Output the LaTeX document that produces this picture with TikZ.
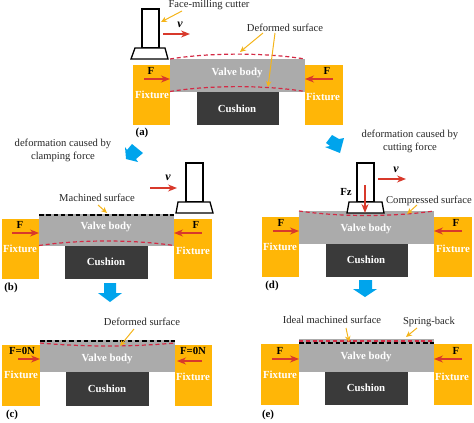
\documentclass[tikz,border=0pt]{standalone}
\usepackage{fontspec}
\setmainfont{Liberation Serif}
\usetikzlibrary{arrows.meta}
\definecolor{fixt}{HTML}{FFB607}
\definecolor{cush}{HTML}{3A3A3A}
\definecolor{bodyg}{HTML}{ABABAB}
\definecolor{redc}{HTML}{D8392B}
\definecolor{lead}{HTML}{F4B41A}
\definecolor{dashr}{HTML}{D42A45}
\definecolor{blueb}{HTML}{00A4EC}
\tikzset{
  block/.style={anchor=north west,inner sep=0pt,outer sep=0pt,draw=none},
  fixture/.style={block,fill=fixt},
  cushion/.style={block,fill=cush},
  vbody/.style={block,fill=bodyg},
  whitetxt/.style={text=white,font=\fontsize{10.8}{12}\selectfont\bfseries,inner sep=0pt},
  bold/.style={font=\fontsize{10.8}{12}\selectfont\bfseries,inner sep=0pt},
  lab/.style={font=\fontsize{10.6}{12}\selectfont,inner sep=0pt,text=black!85},
  vel/.style={font=\fontsize{12}{13}\selectfont\bfseries\itshape,inner sep=0pt},
  force/.style={draw=redc,line width=1.3pt,-{Stealth[length=9pt,width=7pt]}},
  leader/.style={draw=lead,line width=1pt,-{Stealth[length=6pt,width=5.5pt]}},
  reddash/.style={draw=dashr,line width=1.2pt,dash pattern=on 4pt off 2.8pt},
  blackdash/.style={draw=black,line width=1.2pt,dash pattern=on 4.5pt off 2.8pt},
  cutter/.style={draw=black,line width=1.3pt,fill=white},
  bluearrow/.style={fill=blueb,draw=none},
}
\begin{document}
\begin{tikzpicture}[x=1pt,y=-1pt]
\useasboundingbox (0,0) rectangle (474,423);

% ---------- panel (a)
\node[fixture,minimum width=37pt,minimum height=60pt] (fa1) at (133,65) {};
\node[fixture,minimum width=38pt,minimum height=60pt] (fa2) at (305,65) {};
\node[cushion,minimum width=82pt,minimum height=33pt] (ca) at (197,92) {};
\node[vbody,minimum width=135pt,minimum height=33pt] (vab) at (170,59) {};
\coordinate (adA) at (170,59); \coordinate (adB) at (305,59);
\coordinate (adC) at (170,91.5); \coordinate (adD) at (305,91.5);
\draw[reddash] (adA) .. controls (210,52.5) and (265,52.5) .. (adB);
\draw[reddash] (adC) .. controls (210,85) and (265,85) .. (adD);
\node[whitetxt] (va) at (237,73) {Valve body};
\node[whitetxt] (cua) at (237,109) {Cushion};
\node[whitetxt] (xa1) at (152,95) {Fixture};
\node[whitetxt] (xa2) at (323,97) {Fixture};
\node[bold] (Fa1) at (151,71) {F};
\node[bold] (Fa2) at (327,71) {F};
\coordinate (af1) at (144,79); \coordinate (af2) at (170,79);
\coordinate (af3) at (333,79); \coordinate (af4) at (305,79);
\draw[force] (af1) -- (af2);
\draw[force] (af3) -- (af4);
\draw[cutter] (142,9) rectangle (159,48);
\draw[cutter] (135,48) -- (165,48) -- (168,59) -- (131,59) -- cycle;
\node[vel] (va1) at (180,25) {v};
\coordinate (av1) at (163,34); \coordinate (av2) at (190,34);
\draw[force] (av1) -- (av2);
\node[lab] (tfm) at (209,5) {Face-milling cutter};
\coordinate (lfm1) at (182,11); \coordinate (lfm2) at (161,22);
\draw[leader] (lfm1) -- (lfm2);
\node[lab] (tda) at (285,28) {Deformed surface};
\coordinate (lda1) at (263,33); \coordinate (lda2) at (240,52);
\coordinate (lda3) at (275,33); \coordinate (lda4) at (268,87);
\draw[leader] (lda1) -- (lda2);
\draw[leader] (lda3) -- (lda4);
\node[bold] (la) at (142,133) {(a)};

% ---------- blue arrows
\path[bluearrow] (132,144) -- (143,153) -- (136,159) -- (138,162) -- (126,159) -- (125,147) -- (127,150) -- cycle;
\path[bluearrow] (332,135) -- (339,139) -- (344,138) -- (340,153) -- (325,147) -- (330,146) -- (326,143) -- cycle;
\path[bluearrow] (104,283) -- (116,283) -- (116,293) -- (122,293) -- (110,302) -- (98,293) -- (104,293) -- cycle;
\path[bluearrow] (359,280) -- (372,280) -- (372,289) -- (377,289) -- (365,297) -- (353,289) -- (359,289) -- cycle;

\node[lab] (t1a) at (63,144) {deformation caused by};
\node[lab] (t1b) at (63,157) {clamping force};
\node[lab] (t2a) at (410,135) {deformation caused by};
\node[lab] (t2b) at (410,148) {cutting force};

% ---------- panel (b)
\node[fixture,minimum width=37pt,minimum height=60pt] (fb1) at (2,219) {};
\node[fixture,minimum width=38pt,minimum height=60pt] (fb2) at (174,219) {};
\node[cushion,minimum width=83pt,minimum height=33pt] (cb) at (65,246) {};
\node[vbody,minimum width=135pt,minimum height=32pt] (vb) at (39,214) {};
\coordinate (bdA) at (39,215); \coordinate (bdB) at (174,215);
\coordinate (bdC) at (39,245.5); \coordinate (bdD) at (174,245.5);
\draw[blackdash] (bdA) -- (bdB);
\draw[reddash] (bdC) .. controls (80,239.5) and (133,239.5) .. (bdD);
\node[whitetxt] (vbt) at (106,227) {Valve body};
\node[whitetxt] (cbt) at (106,262) {Cushion};
\node[whitetxt] (xb1) at (20,249) {Fixture};
\node[whitetxt] (xb2) at (193,251) {Fixture};
\node[bold] (Fb1) at (20,225) {F};
\node[bold] (Fb2) at (196,225) {F};
\coordinate (bf1) at (12,233); \coordinate (bf2) at (39,233);
\coordinate (bf3) at (202,233); \coordinate (bf4) at (174,233);
\draw[force] (bf1) -- (bf2);
\draw[force] (bf3) -- (bf4);
\draw[cutter] (186,163) rectangle (203,202);
\draw[cutter] (178,202) -- (210,202) -- (213,213) -- (176,213) -- cycle;
\node[vel] (vb1) at (168,178) {v};
\coordinate (bv1) at (150,188); \coordinate (bv2) at (177,188);
\draw[force] (bv1) -- (bv2);
\node[lab] (tmb) at (97,198) {Machined surface};
\coordinate (lmb1) at (98,205); \coordinate (lmb2) at (107,213);
\draw[leader] (lmb1) -- (lmb2);
\node[bold] (lb) at (11,288) {(b)};

% ---------- panel (c)
\node[fixture,minimum width=38pt,minimum height=61pt] (fc1) at (2,345) {};
\node[fixture,minimum width=37pt,minimum height=61pt] (fc2) at (175,345) {};
\node[cushion,minimum width=83pt,minimum height=34pt] (cc) at (66,372) {};
\node[vbody,minimum width=135pt,minimum height=32pt] (vc) at (40,340) {};
\coordinate (cdA) at (40,341); \coordinate (cdB) at (175,341);
\coordinate (cdC) at (40,343); \coordinate (cdD) at (175,343);
\draw[blackdash] (cdA) -- (cdB);
\draw[reddash] (cdC) .. controls (85,347) and (130,347) .. (cdD);
\node[whitetxt] (vct) at (107,359) {Valve body};
\node[whitetxt] (cct) at (107,389) {Cushion};
\node[whitetxt] (xc1) at (21,375) {Fixture};
\node[whitetxt] (xc2) at (193,377) {Fixture};
\node[bold] (Fc1) at (22,351) {F=0N};
\node[bold] (Fc2) at (193,351) {F=0N};
\coordinate (cf1) at (18,359); \coordinate (cf2) at (40,359);
\coordinate (cf3) at (202,361); \coordinate (cf4) at (177,361);
\draw[force] (cf1) -- (cf2);
\draw[force] (cf3) -- (cf4);
\node[lab] (tdc) at (142,322) {Deformed surface};
\coordinate (ldc1) at (134,329); \coordinate (ldc2) at (120,346);
\draw[leader] (ldc1) -- (ldc2);
\node[bold] (lc) at (12,415) {(c)};

% ---------- panel (d)
\node[fixture,minimum width=37pt,minimum height=60pt] (fd1) at (262,217) {};
\node[fixture,minimum width=38pt,minimum height=60pt] (fd2) at (434,217) {};
\node[cushion,minimum width=82pt,minimum height=33pt] (cd) at (326,244) {};
\node[vbody,minimum width=135pt,minimum height=33pt] (vd) at (299,211) {};
\coordinate (ddA) at (299,211); \coordinate (ddB) at (434,211);
\draw[cutter] (357,163) rectangle (374,202);
\draw[cutter] (349,202) -- (382,202) -- (384,213) -- (347,213) -- cycle;
\draw[reddash] (ddA) .. controls (340,217) and (393,217) .. (ddB);
\node[whitetxt] (vdt) at (366,229) {Valve body};
\node[whitetxt] (cdt) at (366,260) {Cushion};
\node[whitetxt] (xd1) at (280,247) {Fixture};
\node[whitetxt] (xd2) at (453,249) {Fixture};
\node[bold] (Fd1) at (281,223) {F};
\node[bold] (Fd2) at (456,223) {F};
\coordinate (df1) at (273,231); \coordinate (df2) at (299,231);
\coordinate (df3) at (462,231); \coordinate (df4) at (434,231);
\draw[force] (df1) -- (df2);
\draw[force] (df3) -- (df4);
\node[bold] (Fz) at (346,192) {Fz};
\coordinate (dz1) at (365,185); \coordinate (dz2) at (365,213);
\draw[force] (dz1) -- (dz2);
\node[vel] (vd1) at (396,170) {v};
\coordinate (dv1) at (378,179); \coordinate (dv2) at (406,179);
\draw[force] (dv1) -- (dv2);
\node[lab] (tcd) at (429,201) {Compressed surface};
\coordinate (lcd1) at (417,205); \coordinate (lcd2) at (407,214);
\draw[leader] (lcd1) -- (lcd2);
\node[bold] (ld) at (272,286) {(d)};

% ---------- panel (e)
\node[fixture,minimum width=38pt,minimum height=61pt] (fe1) at (261,344) {};
\node[fixture,minimum width=38pt,minimum height=61pt] (fe2) at (434,344) {};
\node[cushion,minimum width=83pt,minimum height=33pt] (ce) at (325,372) {};
\node[vbody,minimum width=135pt,minimum height=33pt] (ve) at (299,339) {};
\coordinate (edA) at (299,341); \coordinate (edB) at (434,341);
\coordinate (edC) at (299,343); \coordinate (edD) at (434,343);
\draw[reddash] (edA) -- (edB);
\draw[blackdash] (edC) -- (edD);
\node[whitetxt] (vet) at (366,357) {Valve body};
\node[whitetxt] (cet) at (366,388) {Cushion};
\node[whitetxt] (xe1) at (280,375) {Fixture};
\node[whitetxt] (xe2) at (452,377) {Fixture};
\node[bold] (Fe1) at (280,351) {F};
\node[bold] (Fe2) at (456,351) {F};
\coordinate (ef1) at (272,359); \coordinate (ef2) at (299,359);
\coordinate (ef3) at (462,359); \coordinate (ef4) at (434,359);
\draw[force] (ef1) -- (ef2);
\draw[force] (ef3) -- (ef4);
\node[lab] (tie) at (332,320) {Ideal machined surface};
\node[lab] (tse) at (429,322) {Spring-back};
\coordinate (lie1) at (346,328); \coordinate (lie2) at (349,342);
\coordinate (lse1) at (417,328); \coordinate (lse2) at (406,337);
\draw[leader] (lie1) -- (lie2);
\draw[leader] (lse1) -- (lse2);
\node[bold] (le) at (268,415) {(e)};
\end{tikzpicture}
\end{document}
